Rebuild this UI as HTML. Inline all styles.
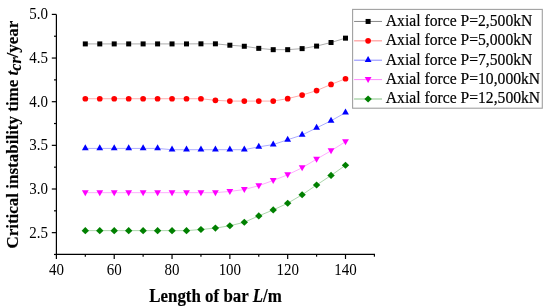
<!DOCTYPE html>
<html><head><meta charset="utf-8"><title>Critical instability time vs length of bar</title>
<style>html,body{margin:0;padding:0;background:#fff;}body{width:550px;height:308px;overflow:hidden;}svg{display:block;}</style>
</head><body>
<svg width="550" height="308" viewBox="0 0 550 308"><g stroke="#000" stroke-width="1.2" fill="none"><line x1="56.4" y1="254.47" x2="56.4" y2="14.4" /><line x1="55.8" y1="254.47" x2="375.01" y2="254.47" /><line x1="54" y1="254.47" x2="56.4" y2="254.47" /><line x1="51.8" y1="232.65" x2="56.4" y2="232.65" /><line x1="54" y1="210.82" x2="56.4" y2="210.82" /><line x1="51.8" y1="189" x2="56.4" y2="189" /><line x1="54" y1="167.18" x2="56.4" y2="167.18" /><line x1="51.8" y1="145.35" x2="56.4" y2="145.35" /><line x1="54" y1="123.53" x2="56.4" y2="123.53" /><line x1="51.8" y1="101.7" x2="56.4" y2="101.7" /><line x1="54" y1="79.88" x2="56.4" y2="79.88" /><line x1="51.8" y1="58.05" x2="56.4" y2="58.05" /><line x1="54" y1="36.23" x2="56.4" y2="36.23" /><line x1="51.8" y1="14.4" x2="56.4" y2="14.4" /><line x1="56.4" y1="254.47" x2="56.4" y2="258.98" /><line x1="85.31" y1="254.47" x2="85.31" y2="256.68" /><line x1="114.22" y1="254.47" x2="114.22" y2="258.98" /><line x1="143.13" y1="254.47" x2="143.13" y2="256.68" /><line x1="172.04" y1="254.47" x2="172.04" y2="258.98" /><line x1="200.95" y1="254.47" x2="200.95" y2="256.68" /><line x1="229.86" y1="254.47" x2="229.86" y2="258.98" /><line x1="258.77" y1="254.47" x2="258.77" y2="256.68" /><line x1="287.68" y1="254.47" x2="287.68" y2="258.98" /><line x1="316.59" y1="254.47" x2="316.59" y2="256.68" /><line x1="345.5" y1="254.47" x2="345.5" y2="258.98" /><line x1="374.41" y1="254.47" x2="374.41" y2="256.68" /></g>
<g font-family="Liberation Serif, serif" font-size="15" fill="#000"><text transform="translate(48.0,237.65) scale(1,1.12)" text-anchor="end">2.5</text><text transform="translate(48.0,194) scale(1,1.12)" text-anchor="end">3.0</text><text transform="translate(48.0,150.35) scale(1,1.12)" text-anchor="end">3.5</text><text transform="translate(48.0,106.7) scale(1,1.12)" text-anchor="end">4.0</text><text transform="translate(48.0,63.05) scale(1,1.12)" text-anchor="end">4.5</text><text transform="translate(48.0,19.4) scale(1,1.12)" text-anchor="end">5.0</text><text transform="translate(56.4,274.6) scale(1,1.12)" text-anchor="middle">40</text><text transform="translate(114.22,274.6) scale(1,1.12)" text-anchor="middle">60</text><text transform="translate(172.04,274.6) scale(1,1.12)" text-anchor="middle">80</text><text transform="translate(229.86,274.6) scale(1,1.12)" text-anchor="middle">100</text><text transform="translate(287.68,274.6) scale(1,1.12)" text-anchor="middle">120</text><text transform="translate(345.5,274.6) scale(1,1.12)" text-anchor="middle">140</text></g>
<polyline points="85.31,43.91 99.77,43.91 114.22,43.91 128.68,43.91 143.13,43.91 157.59,43.91 172.04,43.91 186.5,43.91 200.95,43.82 215.41,43.82 229.86,45.22 244.31,46.26 258.77,48.36 273.22,49.67 287.68,49.67 302.13,48.62 316.59,46.09 331.04,42.51 345.5,38.15" fill="none" stroke="#000000" stroke-width="0.6" stroke-opacity="0.55"/>
<rect x="82.81" y="41.41" width="5" height="5" fill="#000000"/><rect x="97.27" y="41.41" width="5" height="5" fill="#000000"/><rect x="111.72" y="41.41" width="5" height="5" fill="#000000"/><rect x="126.18" y="41.41" width="5" height="5" fill="#000000"/><rect x="140.63" y="41.41" width="5" height="5" fill="#000000"/><rect x="155.09" y="41.41" width="5" height="5" fill="#000000"/><rect x="169.54" y="41.41" width="5" height="5" fill="#000000"/><rect x="184" y="41.41" width="5" height="5" fill="#000000"/><rect x="198.45" y="41.32" width="5" height="5" fill="#000000"/><rect x="212.91" y="41.32" width="5" height="5" fill="#000000"/><rect x="227.36" y="42.72" width="5" height="5" fill="#000000"/><rect x="241.81" y="43.76" width="5" height="5" fill="#000000"/><rect x="256.27" y="45.86" width="5" height="5" fill="#000000"/><rect x="270.72" y="47.17" width="5" height="5" fill="#000000"/><rect x="285.18" y="47.17" width="5" height="5" fill="#000000"/><rect x="299.63" y="46.12" width="5" height="5" fill="#000000"/><rect x="314.09" y="43.59" width="5" height="5" fill="#000000"/><rect x="328.54" y="40.01" width="5" height="5" fill="#000000"/><rect x="343" y="35.65" width="5" height="5" fill="#000000"/>
<polyline points="85.31,98.73 99.77,98.73 114.22,98.73 128.68,98.73 143.13,98.73 157.59,98.73 172.04,98.73 186.5,98.73 200.95,98.73 215.41,100.3 229.86,101.09 244.31,101.09 258.77,101.09 273.22,101.09 287.68,98.64 302.13,95.07 316.59,90.61 331.04,84.41 345.5,78.74" fill="none" stroke="#ff0000" stroke-width="0.6" stroke-opacity="0.55"/>
<circle cx="85.31" cy="98.73" r="2.85" fill="#ff0000"/><circle cx="99.77" cy="98.73" r="2.85" fill="#ff0000"/><circle cx="114.22" cy="98.73" r="2.85" fill="#ff0000"/><circle cx="128.68" cy="98.73" r="2.85" fill="#ff0000"/><circle cx="143.13" cy="98.73" r="2.85" fill="#ff0000"/><circle cx="157.59" cy="98.73" r="2.85" fill="#ff0000"/><circle cx="172.04" cy="98.73" r="2.85" fill="#ff0000"/><circle cx="186.5" cy="98.73" r="2.85" fill="#ff0000"/><circle cx="200.95" cy="98.73" r="2.85" fill="#ff0000"/><circle cx="215.41" cy="100.3" r="2.85" fill="#ff0000"/><circle cx="229.86" cy="101.09" r="2.85" fill="#ff0000"/><circle cx="244.31" cy="101.09" r="2.85" fill="#ff0000"/><circle cx="258.77" cy="101.09" r="2.85" fill="#ff0000"/><circle cx="273.22" cy="101.09" r="2.85" fill="#ff0000"/><circle cx="287.68" cy="98.64" r="2.85" fill="#ff0000"/><circle cx="302.13" cy="95.07" r="2.85" fill="#ff0000"/><circle cx="316.59" cy="90.61" r="2.85" fill="#ff0000"/><circle cx="331.04" cy="84.41" r="2.85" fill="#ff0000"/><circle cx="345.5" cy="78.74" r="2.85" fill="#ff0000"/>
<polyline points="85.31,148.41 99.77,148.41 114.22,148.41 128.68,148.41 143.13,148.41 157.59,148.41 172.04,149.71 186.5,149.71 200.95,149.71 215.41,149.71 229.86,149.71 244.31,149.71 258.77,146.83 273.22,144.56 287.68,139.76 302.13,134.96 316.59,127.89 331.04,120.82 345.5,112.61" fill="none" stroke="#0000ff" stroke-width="0.6" stroke-opacity="0.55"/>
<polygon points="85.31,144.31 88.71,150.31 81.91,150.31" fill="#0000ff"/><polygon points="99.77,144.31 103.17,150.31 96.36,150.31" fill="#0000ff"/><polygon points="114.22,144.31 117.62,150.31 110.82,150.31" fill="#0000ff"/><polygon points="128.68,144.31 132.08,150.31 125.28,150.31" fill="#0000ff"/><polygon points="143.13,144.31 146.53,150.31 139.73,150.31" fill="#0000ff"/><polygon points="157.59,144.31 160.99,150.31 154.19,150.31" fill="#0000ff"/><polygon points="172.04,145.61 175.44,151.61 168.64,151.61" fill="#0000ff"/><polygon points="186.5,145.61 189.9,151.61 183.09,151.61" fill="#0000ff"/><polygon points="200.95,145.61 204.35,151.61 197.55,151.61" fill="#0000ff"/><polygon points="215.41,145.61 218.81,151.61 212,151.61" fill="#0000ff"/><polygon points="229.86,145.61 233.26,151.61 226.46,151.61" fill="#0000ff"/><polygon points="244.31,145.61 247.72,151.61 240.91,151.61" fill="#0000ff"/><polygon points="258.77,142.73 262.17,148.73 255.37,148.73" fill="#0000ff"/><polygon points="273.22,140.46 276.62,146.46 269.82,146.46" fill="#0000ff"/><polygon points="287.68,135.66 291.08,141.66 284.28,141.66" fill="#0000ff"/><polygon points="302.13,130.86 305.53,136.86 298.74,136.86" fill="#0000ff"/><polygon points="316.59,123.79 319.99,129.79 313.19,129.79" fill="#0000ff"/><polygon points="331.04,116.72 334.44,122.72 327.64,122.72" fill="#0000ff"/><polygon points="345.5,108.51 348.9,114.51 342.1,114.51" fill="#0000ff"/>
<polyline points="85.31,192.67 99.77,192.67 114.22,192.67 128.68,192.67 143.13,192.67 157.59,192.67 172.04,192.67 186.5,192.67 200.95,192.67 215.41,192.67 229.86,191.44 244.31,189.52 258.77,185.68 273.22,180.53 287.68,174.77 302.13,167.79 316.59,159.14 331.04,150.76 345.5,141.68" fill="none" stroke="#ff00ff" stroke-width="0.6" stroke-opacity="0.55"/>
<polygon points="81.91,190.17 88.71,190.17 85.31,196.17" fill="#ff00ff"/><polygon points="96.36,190.17 103.17,190.17 99.77,196.17" fill="#ff00ff"/><polygon points="110.82,190.17 117.62,190.17 114.22,196.17" fill="#ff00ff"/><polygon points="125.28,190.17 132.08,190.17 128.68,196.17" fill="#ff00ff"/><polygon points="139.73,190.17 146.53,190.17 143.13,196.17" fill="#ff00ff"/><polygon points="154.19,190.17 160.99,190.17 157.59,196.17" fill="#ff00ff"/><polygon points="168.64,190.17 175.44,190.17 172.04,196.17" fill="#ff00ff"/><polygon points="183.09,190.17 189.9,190.17 186.5,196.17" fill="#ff00ff"/><polygon points="197.55,190.17 204.35,190.17 200.95,196.17" fill="#ff00ff"/><polygon points="212,190.17 218.81,190.17 215.41,196.17" fill="#ff00ff"/><polygon points="226.46,188.94 233.26,188.94 229.86,194.94" fill="#ff00ff"/><polygon points="240.91,187.02 247.72,187.02 244.31,193.02" fill="#ff00ff"/><polygon points="255.37,183.18 262.17,183.18 258.77,189.18" fill="#ff00ff"/><polygon points="269.82,178.03 276.62,178.03 273.22,184.03" fill="#ff00ff"/><polygon points="284.28,172.27 291.08,172.27 287.68,178.27" fill="#ff00ff"/><polygon points="298.74,165.29 305.53,165.29 302.13,171.29" fill="#ff00ff"/><polygon points="313.19,156.64 319.99,156.64 316.59,162.64" fill="#ff00ff"/><polygon points="327.64,148.26 334.44,148.26 331.04,154.26" fill="#ff00ff"/><polygon points="342.1,139.18 348.9,139.18 345.5,145.18" fill="#ff00ff"/>
<polyline points="85.31,230.64 99.77,230.64 114.22,230.64 128.68,230.64 143.13,230.64 157.59,230.64 172.04,230.64 186.5,230.64 200.95,229.51 215.41,228.11 229.86,225.75 244.31,222.26 258.77,215.89 273.22,209.95 287.68,203.23 302.13,194.76 316.59,184.98 331.04,175.47 345.5,165.25" fill="none" stroke="#008000" stroke-width="0.6" stroke-opacity="0.55"/>
<polygon points="85.31,227.04 89.01,230.64 85.31,234.24 81.61,230.64" fill="#008000"/><polygon points="99.77,227.04 103.47,230.64 99.77,234.24 96.06,230.64" fill="#008000"/><polygon points="114.22,227.04 117.92,230.64 114.22,234.24 110.52,230.64" fill="#008000"/><polygon points="128.68,227.04 132.38,230.64 128.68,234.24 124.98,230.64" fill="#008000"/><polygon points="143.13,227.04 146.83,230.64 143.13,234.24 139.43,230.64" fill="#008000"/><polygon points="157.59,227.04 161.28,230.64 157.59,234.24 153.89,230.64" fill="#008000"/><polygon points="172.04,227.04 175.74,230.64 172.04,234.24 168.34,230.64" fill="#008000"/><polygon points="186.5,227.04 190.19,230.64 186.5,234.24 182.8,230.64" fill="#008000"/><polygon points="200.95,225.91 204.65,229.51 200.95,233.11 197.25,229.51" fill="#008000"/><polygon points="215.41,224.51 219.1,228.11 215.41,231.71 211.71,228.11" fill="#008000"/><polygon points="229.86,222.15 233.56,225.75 229.86,229.35 226.16,225.75" fill="#008000"/><polygon points="244.31,218.66 248.01,222.26 244.31,225.86 240.62,222.26" fill="#008000"/><polygon points="258.77,212.29 262.47,215.89 258.77,219.49 255.07,215.89" fill="#008000"/><polygon points="273.22,206.35 276.92,209.95 273.22,213.55 269.52,209.95" fill="#008000"/><polygon points="287.68,199.63 291.38,203.23 287.68,206.83 283.98,203.23" fill="#008000"/><polygon points="302.13,191.16 305.83,194.76 302.13,198.36 298.44,194.76" fill="#008000"/><polygon points="316.59,181.38 320.29,184.98 316.59,188.58 312.89,184.98" fill="#008000"/><polygon points="331.04,171.87 334.74,175.47 331.04,179.07 327.34,175.47" fill="#008000"/><polygon points="345.5,161.65 349.2,165.25 345.5,168.85 341.8,165.25" fill="#008000"/>
<rect x="352.6" y="9.4" width="189.7" height="98.8" fill="#fff" stroke="#a0a0a0" stroke-width="1.1"/>
<line x1="354.1" y1="21.45" x2="382" y2="21.45" stroke="#000000" stroke-width="0.8" stroke-opacity="0.6"/>
<rect x="365.6" y="18.95" width="5" height="5" fill="#000000"/>
<text transform="translate(385.8,25.9) scale(1,1.12)" font-family="Liberation Serif, serif" font-size="15.65" stroke="#000" stroke-width="0.18">Axial force P=2,500kN</text>
<line x1="354.1" y1="40.85" x2="382" y2="40.85" stroke="#ff0000" stroke-width="0.8" stroke-opacity="0.6"/>
<circle cx="368.1" cy="40.85" r="2.85" fill="#ff0000"/>
<text transform="translate(385.8,45.3) scale(1,1.12)" font-family="Liberation Serif, serif" font-size="15.65" stroke="#000" stroke-width="0.18">Axial force P=5,000kN</text>
<line x1="354.1" y1="60.2" x2="382" y2="60.2" stroke="#0000ff" stroke-width="0.8" stroke-opacity="0.6"/>
<polygon points="368.1,56.1 371.5,62.1 364.7,62.1" fill="#0000ff"/>
<text transform="translate(385.8,64.65) scale(1,1.12)" font-family="Liberation Serif, serif" font-size="15.65" stroke="#000" stroke-width="0.18">Axial force P=7,500kN</text>
<line x1="354.1" y1="79.6" x2="382" y2="79.6" stroke="#ff00ff" stroke-width="0.8" stroke-opacity="0.6"/>
<polygon points="364.7,77.1 371.5,77.1 368.1,83.1" fill="#ff00ff"/>
<text transform="translate(385.8,84.05) scale(1,1.12)" font-family="Liberation Serif, serif" font-size="15.65" stroke="#000" stroke-width="0.18">Axial force P=10,000kN</text>
<line x1="354.1" y1="99.0" x2="382" y2="99.0" stroke="#008000" stroke-width="0.8" stroke-opacity="0.6"/>
<polygon points="368.1,95.4 371.8,99 368.1,102.6 364.4,99" fill="#008000"/>
<text transform="translate(385.8,103.45) scale(1,1.12)" font-family="Liberation Serif, serif" font-size="15.65" stroke="#000" stroke-width="0.18">Axial force P=12,500kN</text>
<text transform="translate(215.5,302.0) scale(1,1.06)" text-anchor="middle" font-family="Liberation Serif, serif" font-weight="bold" font-size="16.9" stroke="#000" stroke-width="0.15">Length of bar <tspan font-style="italic">L</tspan>/m</text>
<text transform="translate(17.6,20.6) rotate(-90) scale(1,1.04)" text-anchor="end" font-family="Liberation Serif, serif" font-weight="bold" font-size="17" stroke="#000" stroke-width="0.15">Critical instability time <tspan font-style="italic">t</tspan><tspan font-style="italic" font-size="16" dy="3.5">cr</tspan><tspan dy="-3.5">/year</tspan></text></svg>
</body></html>
